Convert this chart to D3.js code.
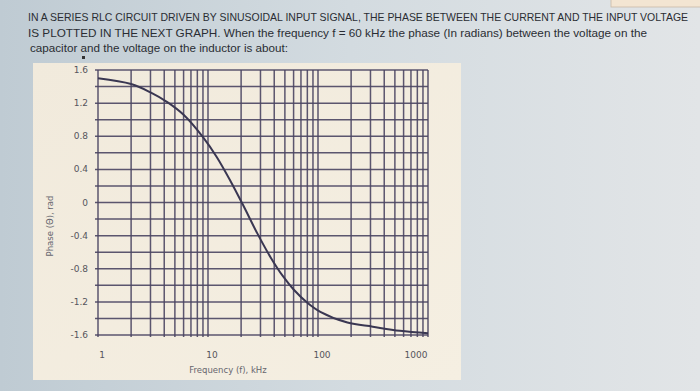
<!DOCTYPE html>
<html>
<head>
<meta charset="utf-8">
<script src="https://cdn.jsdelivr.net/npm/d3@7"></script>
<style>
  html, body { margin: 0; padding: 0; }
  body { width: 700px; height: 391px; overflow: hidden; }
</style>
</head>
<body>
<div class="chart"></div>
<script>
// question text above the chart
var titleLines = [
    "IN A SERIES RLC CIRCUIT DRIVEN BY SINUSOIDAL INPUT SIGNAL, THE PHASE BETWEEN THE CURRENT AND THE INPUT VOLTAGE",
    "IS PLOTTED IN THE NEXT GRAPH. When the frequency f = 60 kHz the phase (In radians) between the voltage on the",
    "capacitor and the voltage on the inductor is about:"
];

// curve
var freq  = [1, 2, 3, 4.3, 6, 9, 12, 16, 21, 28, 37, 48, 60, 80, 105, 185, 315, 555, 1000];
var phase = [1.50, 1.43, 1.33, 1.21, 1.06, 0.79, 0.55, 0.26, -0.04, -0.37, -0.66, -0.89, -1.05, -1.21, -1.32, -1.45, -1.50, -1.55, -1.58];

var xTickLabels = ["1", "10", "100", "1000"];
var yTickLabels = ["1.6", "1.2", "0.8", "0.4", "0", "-0.4", "-0.8", "-1.2", "-1.6"];

var width = 700, height = 391;

var svg = d3.select(".chart").append("svg")
    .attr("width", width)
    .attr("height", height)
    .style("display", "block");

var defs = svg.append("defs");
var bg = defs.append("linearGradient").attr("id", "bg")
    .attr("x1", "0").attr("y1", "0").attr("x2", "1").attr("y2", "0");
bg.append("stop").attr("offset", "0").attr("stop-color", "#bfcbd3");
bg.append("stop").attr("offset", "0.5").attr("stop-color", "#d3dbe0");
bg.append("stop").attr("offset", "1").attr("stop-color", "#e2e5e7");

var panel = defs.append("linearGradient").attr("id", "panel")
    .attr("x1", "0").attr("y1", "0").attr("x2", "1").attr("y2", "1");
panel.append("stop").attr("offset", "0").attr("stop-color", "#f1eadc");
panel.append("stop").attr("offset", "1").attr("stop-color", "#f5efe2");

svg.append("rect").attr("width", width).attr("height", height).attr("fill", "url(#bg)");

// little box in the top right corner of the photo
svg.append("rect")
    .attr("x", 611).attr("y", -2).attr("width", 92).attr("height", 9)
    .attr("fill", "#f3e5d2").attr("stroke", "#c9b9a7").attr("stroke-width", 0.8);

// title text, fitted to the widths seen in the picture
var titleWidths = [660, 619, 258];
var titleSizes = [10.3, 11, 11];
svg.append("g")
    .attr("font-family", "Liberation Sans Narrow, Liberation Sans, sans-serif")
    .attr("fill", "#2a2d33")
    .selectAll("text")
    .data(titleLines)
    .join("text")
    .attr("font-size", (d, i) => titleSizes[i])
    .attr("x", (d, i) => i == 2 ? 30 : 28)
    .attr("y", (d, i) => 21 + i * 15.5)
    .attr("textLength", (d, i) => titleWidths[i])
    .attr("lengthAdjust", "spacingAndGlyphs")
    .text(d => d);

// cream chart panel
svg.append("rect")
    .attr("x", 33).attr("y", 63).attr("width", 428).attr("height", 317)
    .attr("fill", "url(#panel)");

// dark speck above the axis
svg.append("rect").attr("x", 82).attr("y", 56).attr("width", 3).attr("height", 3).attr("fill", "#333");

var x = d3.scaleLog().domain([1, 1000]).range([98, 428]);
var y = d3.scaleLinear().domain([-1.6, 1.6]).range([335, 70]);

var gridColor = "#4a4562";

// vertical grid: every 1..9 of each decade
var xGrid = [];
[1, 10, 100].forEach(function (dec) {
    for (var k = 1; k <= 9; k++) xGrid.push(dec * k);
});
xGrid.push(1000);

var yGrid = d3.range(-8, 9).map(d => d * 0.2);

var grid = svg.append("g")
    .attr("stroke", gridColor)
    .attr("stroke-width", 1.5)
    .attr("stroke-opacity", 0.9);

grid.selectAll("line.v")
    .data(xGrid)
    .join("line")
    .attr("class", "v")
    .attr("x1", d => x(d)).attr("x2", d => x(d))
    .attr("y1", y(1.6)).attr("y2", y(-1.6) + 2);

grid.selectAll("line.h")
    .data(yGrid)
    .join("line")
    .attr("class", "h")
    .attr("x1", x(1) - 3).attr("x2", x(1000))
    .attr("y1", d => y(d)).attr("y2", d => y(d));

// tick labels
var labels = svg.append("g")
    .attr("font-family", "DejaVu Sans, sans-serif")
    .attr("font-size", 9)
    .attr("fill", "#55555c");

labels.selectAll("text.y")
    .data(yTickLabels)
    .join("text")
    .attr("class", "y")
    .attr("x", 88)
    .attr("y", d => y(+d) + 3)
    .attr("text-anchor", "end")
    .text(d => d);

labels.selectAll("text.x")
    .data(xTickLabels)
    .join("text")
    .attr("class", "x")
    .attr("x", d => x(+d) + (d == "1000" ? -12 : 4))
    .attr("y", 358)
    .attr("text-anchor", "middle")
    .text(d => d);

// axis titles
svg.append("text")
    .attr("font-family", "DejaVu Sans, sans-serif")
    .attr("font-size", 8.5)
    .attr("fill", "#66666e")
    .attr("x", 228).attr("y", 373)
    .attr("text-anchor", "middle")
    .text("Frequency (f), kHz");

svg.append("text")
    .attr("font-family", "DejaVu Sans, sans-serif")
    .attr("font-size", 8.5)
    .attr("fill", "#66666e")
    .attr("transform", "translate(53,226) rotate(-90)")
    .attr("text-anchor", "middle")
    .text("Phase (Θ), rad");

// the curve
var line = d3.line()
    .x((d, i) => x(freq[i]))
    .y(d => y(d))
    .curve(d3.curveCatmullRom.alpha(0.5));

svg.append("path")
    .datum(phase)
    .attr("fill", "none")
    .attr("stroke", "#3a3752")
    .attr("stroke-width", 2)
    .attr("d", line);
</script>
</body>
</html>
